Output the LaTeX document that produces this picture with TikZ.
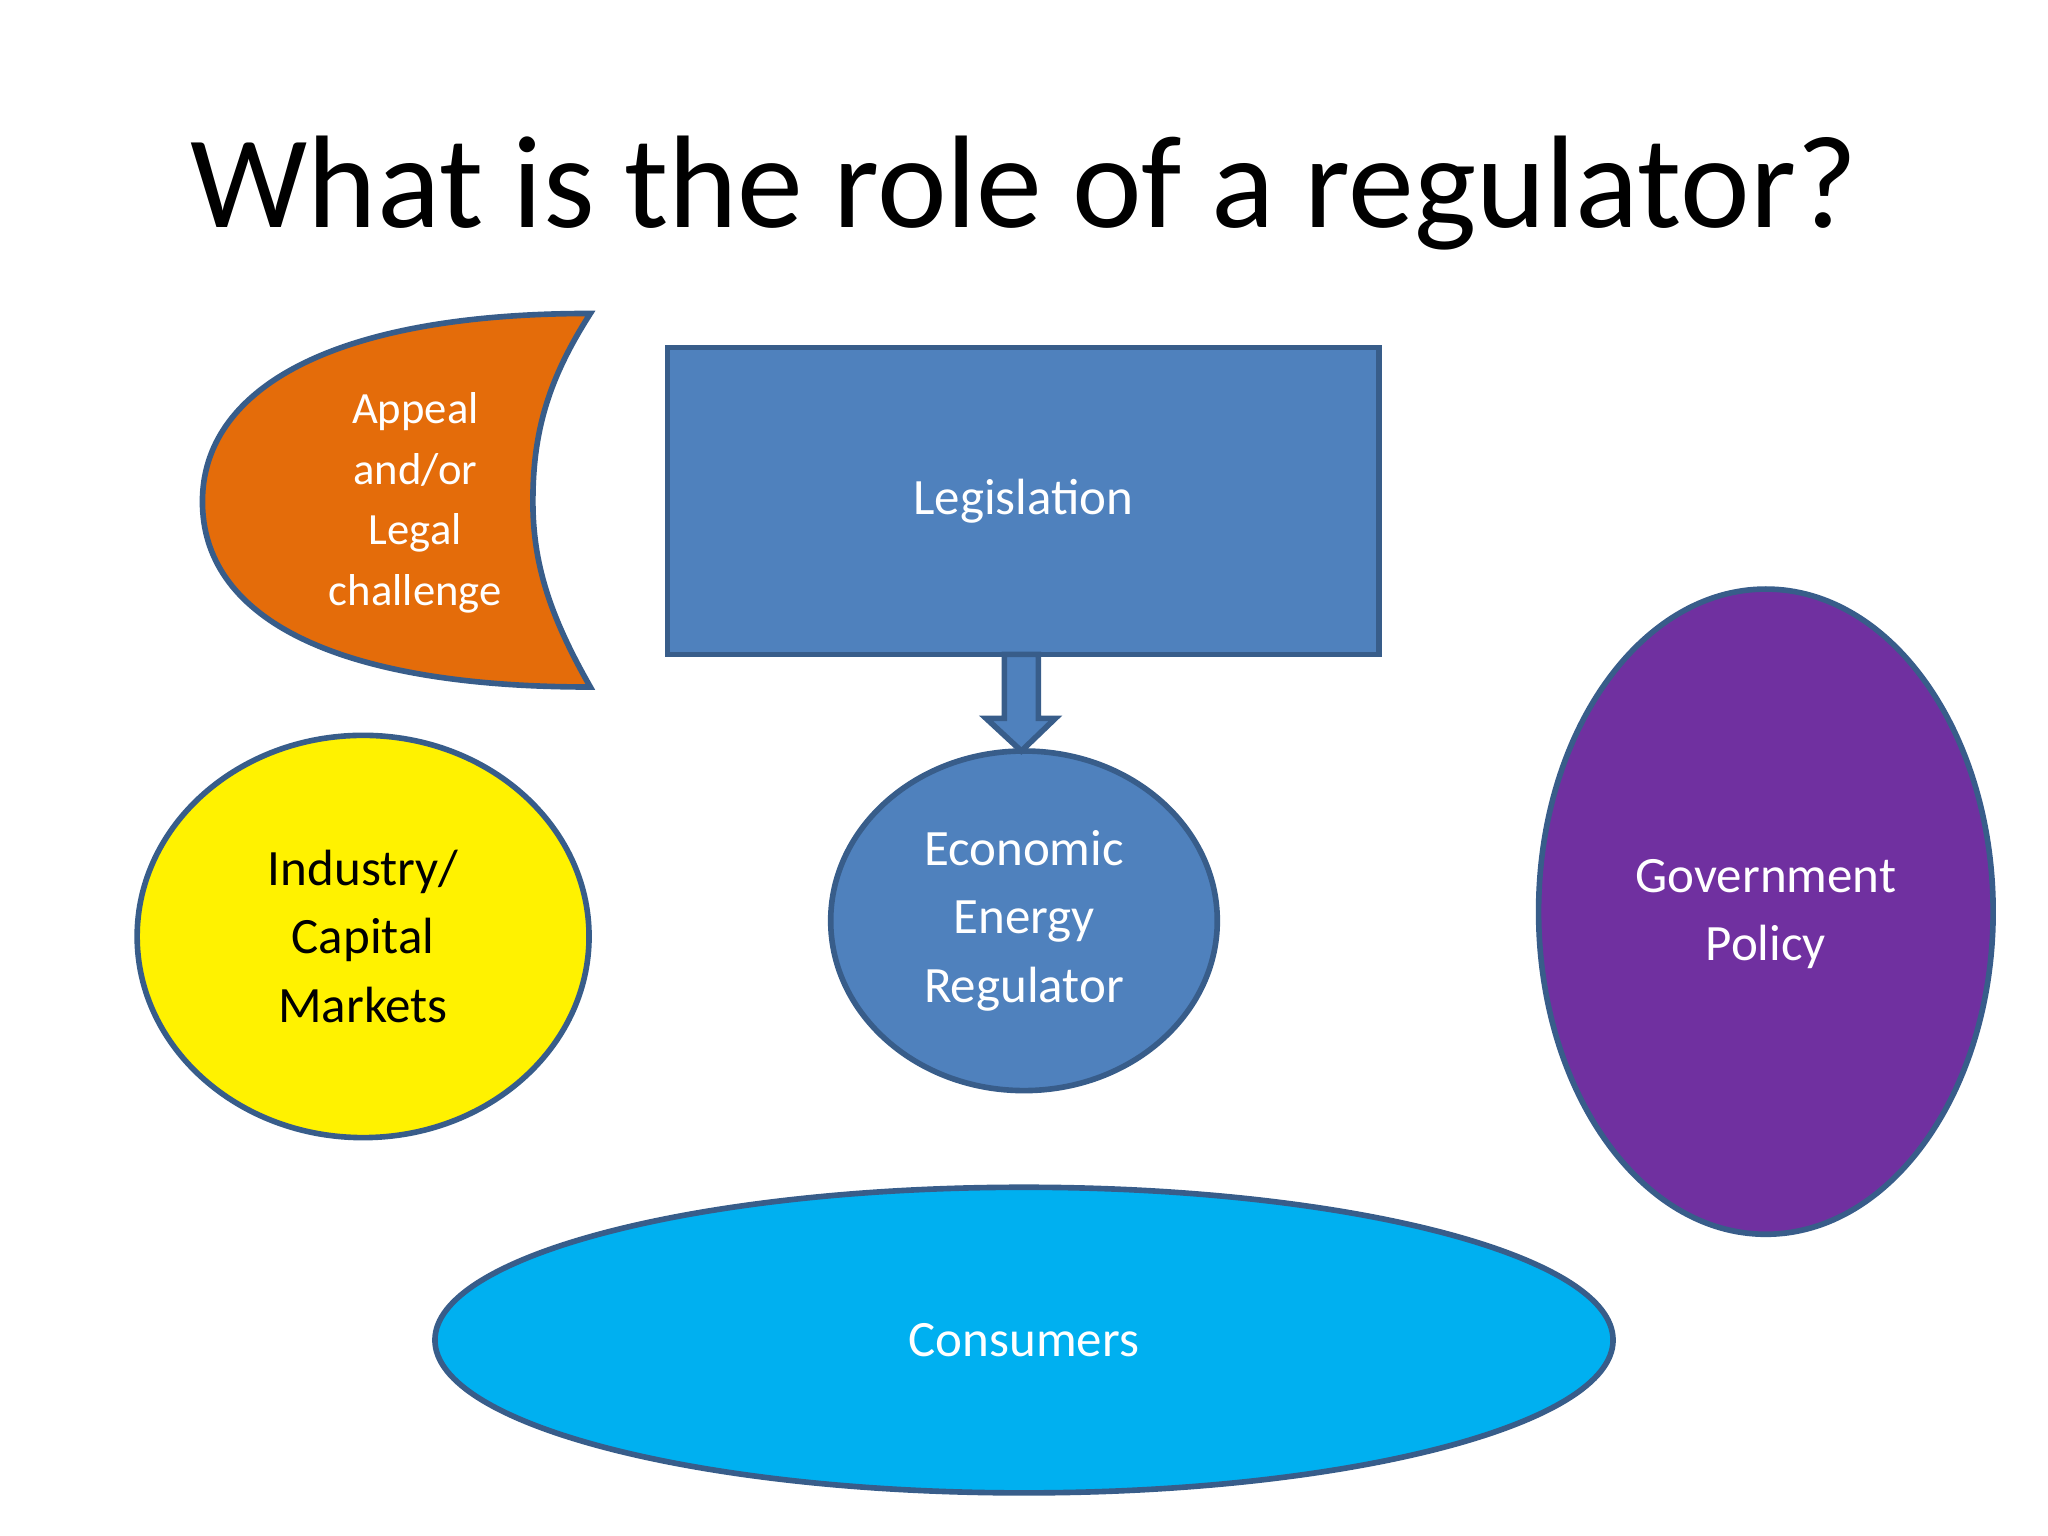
\documentclass[tikz,border=0pt]{standalone}
\usepackage{fontspec}
\setmainfont{Carlito}
\usetikzlibrary{shapes.geometric}
\definecolor{bord}{HTML}{385D8A}
\definecolor{lblue}{HTML}{4F81BD}
\definecolor{orng}{HTML}{E46C0A}
\definecolor{purp}{HTML}{7030A0}
\definecolor{cyn}{HTML}{00B0F0}
\tikzset{shp/.style={draw=bord,line width=1.6pt},
 txt/.style={align=center,font=\fontsize{14.5}{19.5}\selectfont,text=white}}
\begin{document}
\begin{tikzpicture}[x=0.013061cm,y=-0.013061cm]
\useasboundingbox (0,0) rectangle (1568,1176);
\node (title) at (784,148) {\fontsize{37.5}{40}\selectfont What is the role of a regulator?};
% appeal moon
\draw[shp,fill=orng] (452,240) .. controls (250,240) and (155,300) .. (155,384) .. controls (155,470) and (250,526) .. (452,526) .. controls (420,470) and (408,430) .. (408,384) .. controls (408,330) and (420,290) .. (452,240) -- cycle;
\node[txt,font=\fontsize{12.7}{17.2}\selectfont] (appeal) at (318,385) {Appeal\\and/or\\Legal\\challenge};
\node[shp,fill=lblue,minimum width=545*0.013061cm,minimum height=235*0.013061cm,txt] (leg) at (783.5,383.5) {Legislation};
\node[shp,fill=lblue,ellipse,minimum width=296*0.013061cm,minimum height=260*0.013061cm,txt] (reg) at (784,705) {Economic\\Energy\\Regulator};
\draw[shp,fill=lblue] (769,501) -- (795,501) -- (795,550) -- (808,550) -- (782,575) -- (755,550) -- (769,550) -- cycle;
\node[shp,fill=yellow,ellipse,minimum width=346*0.013061cm,minimum height=308*0.013061cm,txt,text=black] (ind) at (278,717) {Industry/\\Capital\\Markets};
\node[shp,fill=purp,ellipse,minimum width=348*0.013061cm,minimum height=494*0.013061cm] (gov) at (1352,698) {};
\node[txt] at (1352,700) {Government\\Policy};
\node[shp,fill=cyn,ellipse,minimum width=902*0.013061cm,minimum height=234*0.013061cm,txt] (cons) at (784,1026) {Consumers};
\end{tikzpicture}
\end{document}
